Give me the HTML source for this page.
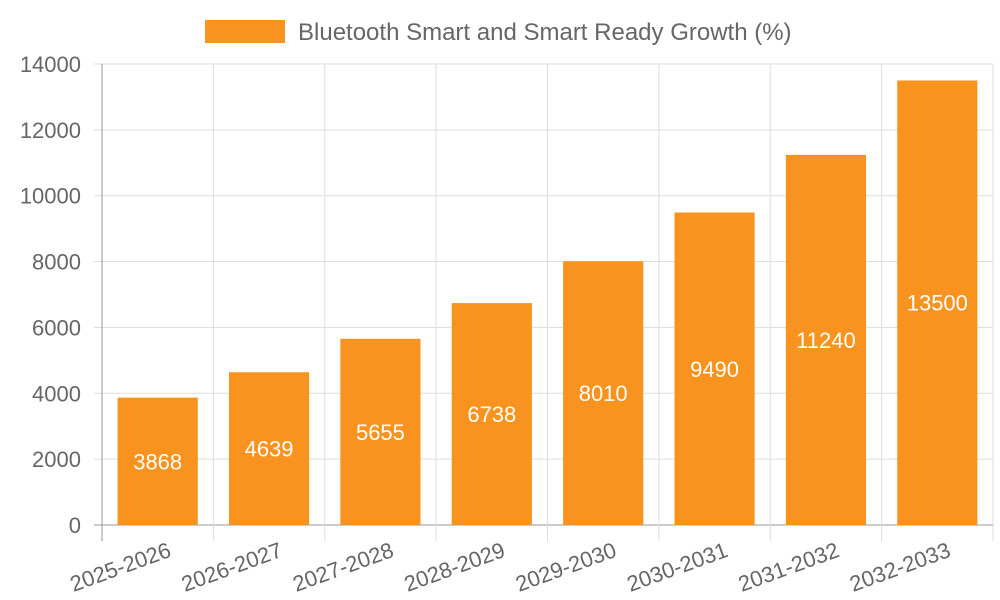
<!DOCTYPE html>
<html><head><meta charset="utf-8"><style>
html,body{margin:0;padding:0;background:#fff;}
svg{display:block;font-family:"Liberation Sans",sans-serif;}
</style></head><body>
<svg id="chart" width="1000" height="600"></svg>
<script>
const categories=["2025-2026","2026-2027","2027-2028","2028-2029","2029-2030","2030-2031","2031-2032","2032-2033"];
const values=[3868,4639,5655,6738,8010,9490,11240,13500];
const yTicks=[0,2000,4000,6000,8000,10000,12000,14000];
const seriesName="Bluetooth Smart and Smart Ready Growth (%)";
const NS="http://www.w3.org/2000/svg";
const svg=document.getElementById('chart');
const L=102,R=993,T=64,B=525,yMax=14000;
const y=v=>B-(v/yMax)*(B-T);
const bw=(R-L)/categories.length;
const x=i=>L+i*bw;
function mk(tag,attrs,parent){const e=document.createElementNS(NS,tag);for(const k in attrs)e.setAttribute(k,attrs[k]);(parent||svg).appendChild(e);return e;}
const grid=mk('g',{});


yTicks.forEach(t=>{
 const ln=mk('line',{x1:94,x2:R,y1:y(t),y2:y(t),stroke:t===0?'#999':'#ddd','stroke-width':1},grid);
 
 
 const tx=mk('text',{x:81,y:y(t)+8,'text-anchor':'end','font-size':22,fill:'#666'},grid);
 tx.textContent=t;
 
 
});
for(let i=0;i<=categories.length;i++){
 const ln=mk('line',{x1:x(i),x2:x(i),y1:T,y2:541,stroke:i===0?'#999':'#ddd','stroke-width':1},grid);
 
 
}
values.forEach((v,i)=>{
 const w=bw*0.72,cx=x(i)+bw/2;
 const r=mk('rect',{x:cx-w/2,y:y(v),width:w,height:B-y(v),fill:'#F7931E'});
 
 
 const t=mk('text',{x:cx,y:(y(v)+B)/2+8,'text-anchor':'middle','font-size':22,fill:'#fff'});
 t.textContent=v;
 
 
 const c=mk('text',{x:0,y:0,'text-anchor':'end','font-size':22,fill:'#666',transform:`translate(${x(i+1)-41},${556}) rotate(-20)`});
 c.textContent=categories[i];
 
 
});
const lg=mk('g',{});


mk('rect',{x:205,y:20,width:80,height:23,fill:'#F7931E'},lg);
const lt=mk('text',{x:298,y:40,'font-size':24,fill:'#666'},lg);
lt.textContent=seriesName;
</script>
</body></html>
